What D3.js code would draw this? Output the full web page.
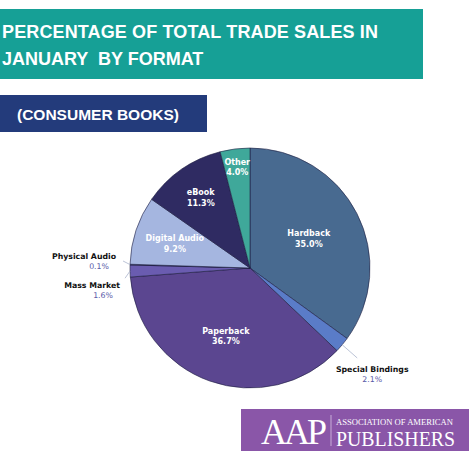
<!DOCTYPE html>
<html><head><meta charset="utf-8">
<script src="https://cdn.jsdelivr.net/npm/d3@7"></script>
<style>body{margin:0;background:#fff}</style></head>
<body><svg id="c" width="474" height="473"></svg>
<script>
const categories = ["Hardback","Special Bindings","Paperback","Mass Market","Physical Audio","Digital Audio","eBook","Other"];
const values = [35.0, 2.1, 36.7, 1.6, 0.1, 9.2, 11.3, 4.0];
const colors = ["#486a90","#5a7cc8","#5b4690","#6a5cb0","#2a2860","#a5b6e0","#2f2b62","#3fa89a"];
const labelR = [0.55, 0, 0.6, 0, 0, 0.66, 0.72, 0.85];
const outside = {1:{dx:30,dy:22,anchor:"middle"},3:{dx:-10,dy:12,anchor:"end"},4:{dx:-14,dy:-6,anchor:"end"}};

const svg = d3.select("#c");
svg.append("rect").attr("x",0).attr("y",9).attr("width",423).attr("height",70).attr("fill","#16a096");
svg.append("text").attr("x",2).attr("y",38).attr("fill","#fff").attr("font-family","Liberation Sans, Arial").attr("font-weight","bold").attr("font-size",18).attr("textLength",376).text("PERCENTAGE OF TOTAL TRADE SALES IN");
svg.append("text").attr("x",2).attr("y",65).attr("fill","#fff").attr("font-family","Liberation Sans, Arial").attr("font-weight","bold").attr("font-size",18).attr("xml:space","preserve").text("JANUARY  BY FORMAT");
svg.append("rect").attr("x",0).attr("y",95).attr("width",207).attr("height",37).attr("fill","#233b7b");
svg.append("text").attr("x",17).attr("y",120).attr("fill","#fff").attr("font-family","Liberation Sans, Arial").attr("font-weight","bold").attr("font-size",15.5).text("(CONSUMER BOOKS)");

const cx=250, cy=268, r=120;
const g = svg.append("g").attr("transform",`translate(${cx},${cy})`);
const data = categories.map((c,i)=>({c,v:values[i],i}));
const pie = d3.pie().value(d=>d.v).sort(null);
const arcs = pie(data);
const arc = d3.arc().innerRadius(0).outerRadius(r);
g.selectAll("path").data(arcs).join("path").attr("d",arc).attr("fill",d=>colors[d.data.i]).attr("stroke","#1c1c40").attr("stroke-width",0.6);

const font="DejaVu Sans, Verdana";
arcs.forEach(a=>{
  const i=a.data.i, m=(a.startAngle+a.endAngle)/2;
  const sx=Math.sin(m), sy=-Math.cos(m);
  const pct=a.data.v.toFixed(1)+"%";
  if(!outside[i]){
    const lr=labelR[i]*r, x=sx*lr, y=sy*lr;
    const t=g.append("text").attr("text-anchor","middle").attr("fill","#fff").attr("font-family",font).attr("font-weight","bold").attr("font-size",8);
    t.append("tspan").attr("x",x).attr("y",y-2).text(a.data.c);
    t.append("tspan").attr("x",x).attr("y",y+8.5).text(pct);
  } else {
    const o=outside[i];
    const px=sx*r, py=sy*r;
    const ex=px+o.dx*0.5, ey=py+o.dy*0.6;
    g.append("line").attr("x1",px).attr("y1",py).attr("x2",ex).attr("y2",ey).attr("stroke","#aab4cc").attr("stroke-width",0.8);
    const lx=px+o.dx, ly=py+o.dy+ (o.dy>0?5:0);
    g.append("text").attr("x",lx).attr("y",ly).attr("text-anchor",o.anchor).attr("font-family",font).attr("font-weight","bold").attr("font-size",7.8).attr("fill","#111").text(a.data.c);
    g.append("text").attr("x",o.anchor==="middle"?lx:lx-17).attr("y",ly+10).attr("text-anchor","middle").attr("font-family",font).attr("font-size",7.8).attr("fill","#5a5aa8").text(pct);
  }
});

svg.append("rect").attr("x",241).attr("y",409).attr("width",228).attr("height",42).attr("fill","#8a56a8");
svg.append("text").attr("x",261).attr("y",444).attr("fill","#fff").attr("font-family","Liberation Serif, Times New Roman").attr("font-size",36).attr("textLength",66).text("AAP");
svg.append("line").attr("x1",331).attr("x2",331).attr("y1",415).attr("y2",446).attr("stroke","#d8c4e4").attr("stroke-width",0.8);
svg.append("text").attr("x",336).attr("y",425).attr("fill","#fff").attr("font-family","Liberation Serif, Times New Roman").attr("font-size",9.2).attr("textLength",117).attr("lengthAdjust","spacingAndGlyphs").text("ASSOCIATION OF AMERICAN");
svg.append("text").attr("x",336).attr("y",446).attr("fill","#fff").attr("font-family","Liberation Serif, Times New Roman").attr("font-size",22).attr("textLength",119).attr("lengthAdjust","spacingAndGlyphs").text("PUBLISHERS");
</script></body></html>
